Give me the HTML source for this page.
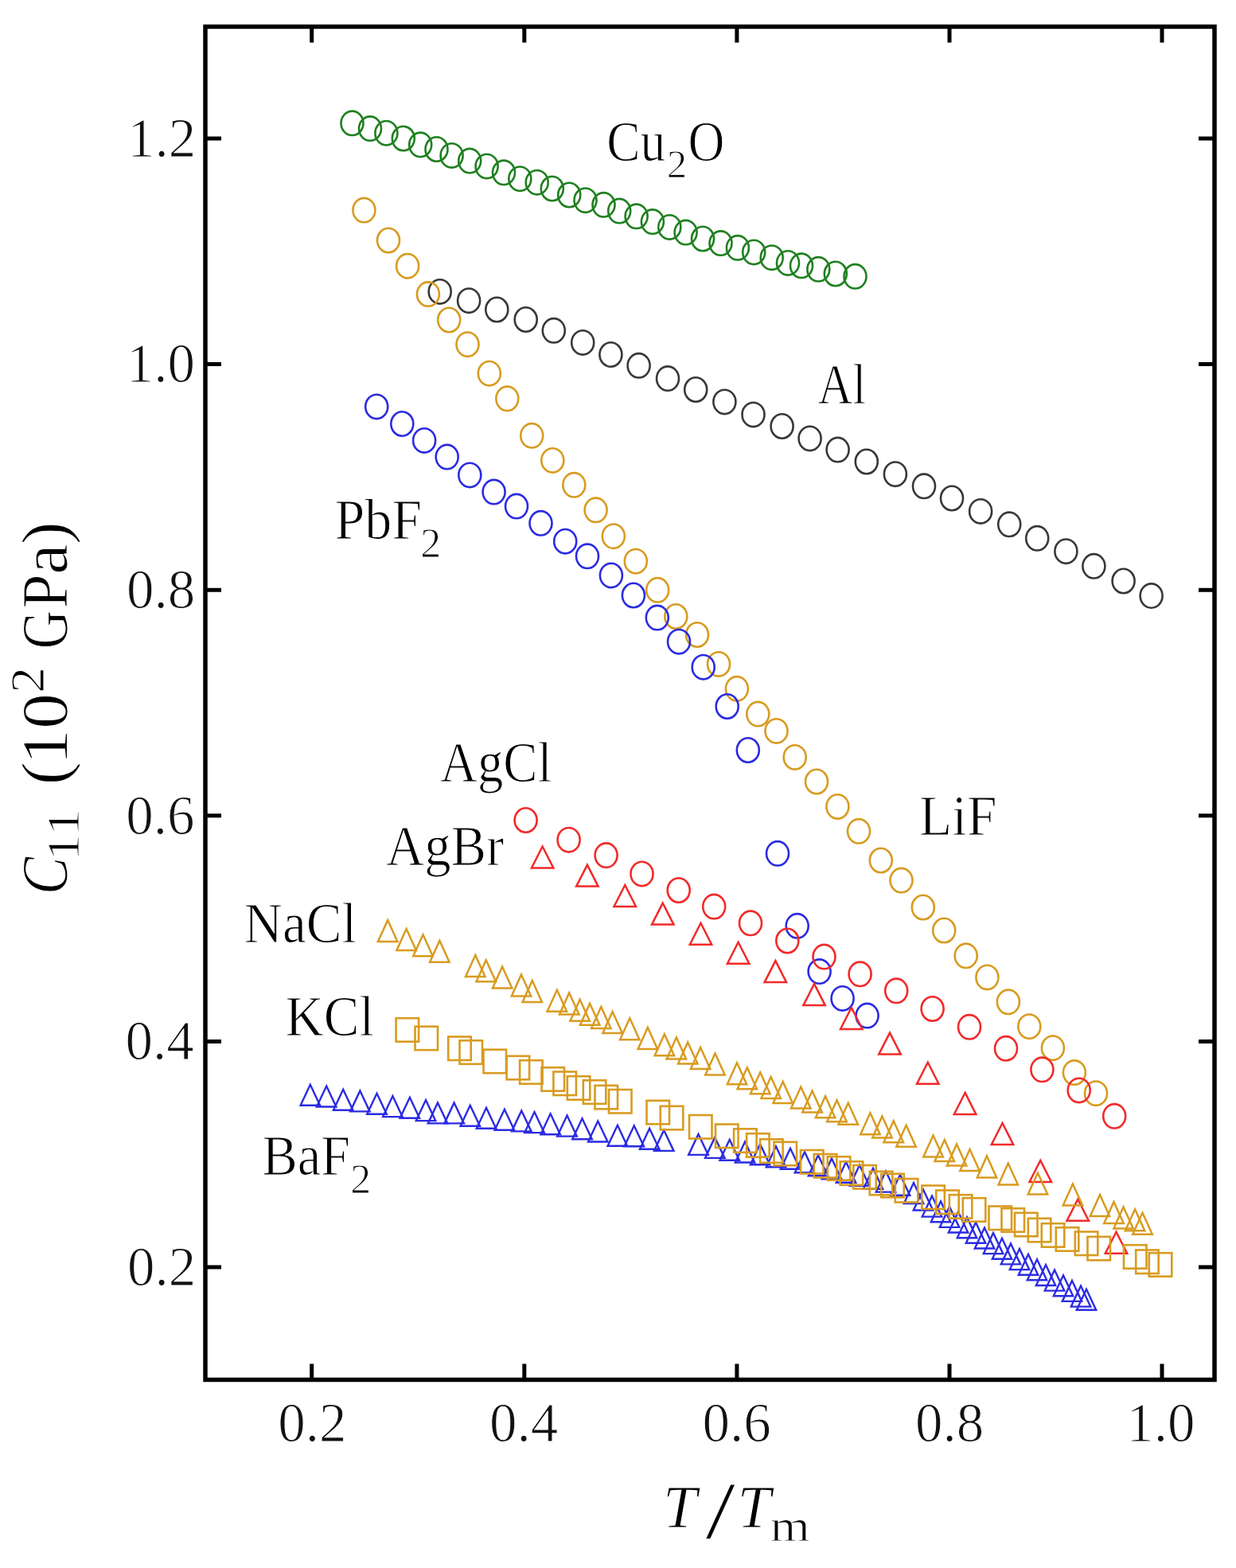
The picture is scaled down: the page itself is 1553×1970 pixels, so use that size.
<!DOCTYPE html>
<html><head><meta charset="utf-8"><title>C11 vs T/Tm</title>
<style>html,body{margin:0;padding:0;background:#fff;}body{width:1553px;height:1970px;overflow:hidden;}svg{display:block;}</style>
</head><body>
<svg width="1553" height="1970" viewBox="0 0 1553 1970">
<rect width="100%" height="100%" fill="#fff"/>
<g fill="none" stroke="#1f801f" stroke-width="2.6"><ellipse cx="442.5" cy="154.8" rx="14" ry="15.2"/><ellipse cx="465.0" cy="161.6" rx="14" ry="15.2"/><ellipse cx="485.4" cy="167.2" rx="14" ry="15.2"/><ellipse cx="506.8" cy="174.0" rx="14" ry="15.2"/><ellipse cx="528.2" cy="181.8" rx="14" ry="15.2"/><ellipse cx="548.5" cy="187.5" rx="14" ry="15.2"/><ellipse cx="567.6" cy="195.4" rx="14" ry="15.2"/><ellipse cx="590.2" cy="202.1" rx="14" ry="15.2"/><ellipse cx="611.6" cy="208.9" rx="14" ry="15.2"/><ellipse cx="633.0" cy="216.8" rx="14" ry="15.2"/><ellipse cx="653.3" cy="224.7" rx="14" ry="15.2"/><ellipse cx="674.7" cy="229.2" rx="14" ry="15.2"/><ellipse cx="693.8" cy="237.0" rx="14" ry="15.2"/><ellipse cx="715.2" cy="245.0" rx="14" ry="15.2"/><ellipse cx="735.5" cy="251.7" rx="14" ry="15.2"/><ellipse cx="758.5" cy="257.3" rx="14" ry="15.2"/><ellipse cx="778.2" cy="265.1" rx="14" ry="15.2"/><ellipse cx="799.6" cy="271.8" rx="14" ry="15.2"/><ellipse cx="819.9" cy="278.6" rx="14" ry="15.2"/><ellipse cx="841.3" cy="285.4" rx="14" ry="15.2"/><ellipse cx="861.6" cy="292.1" rx="14" ry="15.2"/><ellipse cx="883.0" cy="300.0" rx="14" ry="15.2"/><ellipse cx="905.5" cy="305.6" rx="14" ry="15.2"/><ellipse cx="926.9" cy="311.3" rx="14" ry="15.2"/><ellipse cx="947.2" cy="316.9" rx="14" ry="15.2"/><ellipse cx="969.7" cy="323.7" rx="14" ry="15.2"/><ellipse cx="990.0" cy="330.4" rx="14" ry="15.2"/><ellipse cx="1007.0" cy="333.8" rx="14" ry="15.2"/><ellipse cx="1028.3" cy="338.3" rx="14" ry="15.2"/><ellipse cx="1049.8" cy="344.0" rx="14" ry="15.2"/><ellipse cx="1074.5" cy="347.3" rx="14" ry="15.2"/></g>
<g fill="none" stroke="#383838" stroke-width="2.6"><ellipse cx="552.7" cy="366.4" rx="14" ry="15.2"/><ellipse cx="589.1" cy="377.7" rx="14" ry="15.2"/><ellipse cx="624.3" cy="389.0" rx="14" ry="15.2"/><ellipse cx="660.7" cy="401.5" rx="14" ry="15.2"/><ellipse cx="695.8" cy="415.3" rx="14" ry="15.2"/><ellipse cx="732.2" cy="430.4" rx="14" ry="15.2"/><ellipse cx="767.4" cy="445.5" rx="14" ry="15.2"/><ellipse cx="802.6" cy="459.3" rx="14" ry="15.2"/><ellipse cx="839.0" cy="475.6" rx="14" ry="15.2"/><ellipse cx="874.2" cy="489.5" rx="14" ry="15.2"/><ellipse cx="910.4" cy="504.9" rx="14" ry="15.2"/><ellipse cx="946.5" cy="520.9" rx="14" ry="15.2"/><ellipse cx="982.6" cy="535.5" rx="14" ry="15.2"/><ellipse cx="1017.6" cy="550.9" rx="14" ry="15.2"/><ellipse cx="1052.6" cy="565.1" rx="14" ry="15.2"/><ellipse cx="1088.8" cy="580.0" rx="14" ry="15.2"/><ellipse cx="1124.9" cy="595.7" rx="14" ry="15.2"/><ellipse cx="1161.0" cy="610.8" rx="14" ry="15.2"/><ellipse cx="1196.0" cy="626.0" rx="14" ry="15.2"/><ellipse cx="1232.1" cy="642.4" rx="14" ry="15.2"/><ellipse cx="1268.2" cy="658.8" rx="14" ry="15.2"/><ellipse cx="1303.2" cy="676.3" rx="14" ry="15.2"/><ellipse cx="1339.4" cy="692.7" rx="14" ry="15.2"/><ellipse cx="1374.4" cy="711.3" rx="14" ry="15.2"/><ellipse cx="1411.6" cy="730.0" rx="14" ry="15.2"/><ellipse cx="1446.6" cy="748.6" rx="14" ry="15.2"/></g>
<g fill="none" stroke="#d89b20" stroke-width="2.6"><ellipse cx="457.4" cy="264.1" rx="14" ry="15.2"/><ellipse cx="488.0" cy="302.0" rx="14" ry="15.2"/><ellipse cx="512.1" cy="334.2" rx="14" ry="15.2"/><ellipse cx="537.9" cy="369.6" rx="14" ry="15.2"/><ellipse cx="564.2" cy="402.0" rx="14" ry="15.2"/><ellipse cx="587.5" cy="432.7" rx="14" ry="15.2"/><ellipse cx="614.8" cy="469.2" rx="14" ry="15.2"/><ellipse cx="637.3" cy="500.8" rx="14" ry="15.2"/><ellipse cx="668.2" cy="547.3" rx="14" ry="15.2"/><ellipse cx="694.3" cy="578.4" rx="14" ry="15.2"/><ellipse cx="721.3" cy="609.3" rx="14" ry="15.2"/><ellipse cx="748.6" cy="640.8" rx="14" ry="15.2"/><ellipse cx="770.8" cy="673.7" rx="14" ry="15.2"/><ellipse cx="798.8" cy="705.2" rx="14" ry="15.2"/><ellipse cx="826.2" cy="741.3" rx="14" ry="15.2"/><ellipse cx="849.3" cy="774.5" rx="14" ry="15.2"/><ellipse cx="876.0" cy="797.5" rx="14" ry="15.2"/><ellipse cx="903.0" cy="834.4" rx="14" ry="15.2"/><ellipse cx="925.9" cy="865.3" rx="14" ry="15.2"/><ellipse cx="952.3" cy="897.1" rx="14" ry="15.2"/><ellipse cx="975.5" cy="918.4" rx="14" ry="15.2"/><ellipse cx="998.7" cy="951.4" rx="14" ry="15.2"/><ellipse cx="1026.0" cy="982.0" rx="14" ry="15.2"/><ellipse cx="1052.4" cy="1013.4" rx="14" ry="15.2"/><ellipse cx="1079.0" cy="1044.3" rx="14" ry="15.2"/><ellipse cx="1106.8" cy="1081.0" rx="14" ry="15.2"/><ellipse cx="1132.5" cy="1106.1" rx="14" ry="15.2"/><ellipse cx="1159.8" cy="1140.0" rx="14" ry="15.2"/><ellipse cx="1186.2" cy="1169.0" rx="14" ry="15.2"/><ellipse cx="1213.7" cy="1200.8" rx="14" ry="15.2"/><ellipse cx="1240.4" cy="1227.9" rx="14" ry="15.2"/><ellipse cx="1266.9" cy="1258.8" rx="14" ry="15.2"/><ellipse cx="1293.3" cy="1289.7" rx="14" ry="15.2"/><ellipse cx="1322.9" cy="1316.7" rx="14" ry="15.2"/><ellipse cx="1349.9" cy="1347.6" rx="14" ry="15.2"/><ellipse cx="1377.0" cy="1373.7" rx="14" ry="15.2"/></g>
<g fill="none" stroke="#2b2be2" stroke-width="2.6"><ellipse cx="473.2" cy="510.9" rx="14" ry="15.2"/><ellipse cx="505.3" cy="532.5" rx="14" ry="15.2"/><ellipse cx="533.1" cy="553.4" rx="14" ry="15.2"/><ellipse cx="561.7" cy="574.1" rx="14" ry="15.2"/><ellipse cx="590.3" cy="596.9" rx="14" ry="15.2"/><ellipse cx="620.6" cy="618.1" rx="14" ry="15.2"/><ellipse cx="649.0" cy="636.1" rx="14" ry="15.2"/><ellipse cx="679.5" cy="657.3" rx="14" ry="15.2"/><ellipse cx="710.2" cy="680.2" rx="14" ry="15.2"/><ellipse cx="738.0" cy="698.8" rx="14" ry="15.2"/><ellipse cx="767.9" cy="722.9" rx="14" ry="15.2"/><ellipse cx="795.9" cy="748.0" rx="14" ry="15.2"/><ellipse cx="825.8" cy="776.1" rx="14" ry="15.2"/><ellipse cx="853.0" cy="806.2" rx="14" ry="15.2"/><ellipse cx="883.7" cy="838.2" rx="14" ry="15.2"/><ellipse cx="913.7" cy="887.5" rx="14" ry="15.2"/><ellipse cx="939.8" cy="942.5" rx="14" ry="15.2"/><ellipse cx="977.0" cy="1072.3" rx="14" ry="15.2"/><ellipse cx="1001.7" cy="1163.3" rx="14" ry="15.2"/><ellipse cx="1029.6" cy="1220.6" rx="14" ry="15.2"/><ellipse cx="1058.6" cy="1254.4" rx="14" ry="15.2"/><ellipse cx="1089.6" cy="1276.1" rx="14" ry="15.2"/></g>
<g fill="none" stroke="#f22a2a" stroke-width="2.6"><ellipse cx="660.6" cy="1030.5" rx="14" ry="15.2"/><ellipse cx="714.6" cy="1055.2" rx="14" ry="15.2"/><ellipse cx="761.6" cy="1074.6" rx="14" ry="15.2"/><ellipse cx="806.5" cy="1097.9" rx="14" ry="15.2"/><ellipse cx="852.7" cy="1118.5" rx="14" ry="15.2"/><ellipse cx="897.2" cy="1139.1" rx="14" ry="15.2"/><ellipse cx="943.0" cy="1159.8" rx="14" ry="15.2"/><ellipse cx="989.3" cy="1182.0" rx="14" ry="15.2"/><ellipse cx="1035.5" cy="1202.1" rx="14" ry="15.2"/><ellipse cx="1080.6" cy="1223.8" rx="14" ry="15.2"/><ellipse cx="1126.2" cy="1244.8" rx="14" ry="15.2"/><ellipse cx="1171.6" cy="1267.5" rx="14" ry="15.2"/><ellipse cx="1218.0" cy="1290.3" rx="14" ry="15.2"/><ellipse cx="1264.0" cy="1317.3" rx="14" ry="15.2"/><ellipse cx="1309.4" cy="1343.8" rx="14" ry="15.2"/><ellipse cx="1355.7" cy="1369.9" rx="14" ry="15.2"/><ellipse cx="1400.2" cy="1402.3" rx="14" ry="15.2"/></g>
<g fill="none" stroke="#f22a2a" stroke-width="2.5" stroke-linejoin="miter"><path d="M681.6 1063.5L695.4 1090.5H667.9Z"/><path d="M737.9 1086.6L751.6 1113.6H724.1Z"/><path d="M785.3 1112.0L799.0 1139.0H771.5Z"/><path d="M832.7 1134.6L846.5 1161.6H819.0Z"/><path d="M880.5 1159.8L894.2 1186.8H866.8Z"/><path d="M927.6 1183.7L941.4 1210.7H913.9Z"/><path d="M974.4 1207.1L988.1 1234.1H960.6Z"/><path d="M1023.1 1236.1L1036.8 1263.1H1009.4Z"/><path d="M1069.8 1265.9L1083.5 1292.9H1056.0Z"/><path d="M1118.0 1297.6L1131.8 1324.6H1104.2Z"/><path d="M1165.8 1334.8L1179.5 1361.8H1152.0Z"/><path d="M1212.6 1372.9L1226.3 1399.9H1198.8Z"/><path d="M1259.5 1411.0L1273.2 1438.0H1245.8Z"/><path d="M1307.2 1457.9L1321.0 1484.9H1293.5Z"/><path d="M1354.3 1506.8L1368.0 1533.8H1340.5Z"/><path d="M1402.5 1547.8L1416.2 1574.8H1388.8Z"/></g>
<g fill="none" stroke="#d89b20" stroke-width="2.5" stroke-linejoin="miter"><path d="M487.2 1156.1L499.4 1183.1H474.9Z"/><path d="M510.6 1167.0L522.9 1194.0H498.4Z"/><path d="M531.5 1174.2L543.8 1201.2H519.2Z"/><path d="M552.4 1181.7L564.6 1208.7H540.1Z"/><path d="M597.3 1200.1L609.5 1227.1H585.0Z"/><path d="M610.7 1206.3L623.0 1233.3H598.5Z"/><path d="M631.1 1214.4L643.4 1241.4H618.9Z"/><path d="M655.0 1224.4L667.2 1251.4H642.8Z"/><path d="M668.8 1231.9L681.0 1258.9H656.5Z"/><path d="M699.9 1243.8L712.1 1270.8H687.6Z"/><path d="M715.2 1247.4L727.5 1274.4H703.0Z"/><path d="M728.6 1255.8L740.9 1282.8H716.4Z"/><path d="M741.1 1260.8L753.4 1287.8H728.9Z"/><path d="M755.3 1265.0L767.5 1292.0H743.0Z"/><path d="M769.6 1270.9L781.9 1297.9H757.4Z"/><path d="M791.3 1279.2L803.5 1306.2H779.0Z"/><path d="M813.9 1290.9L826.1 1317.9H801.6Z"/><path d="M834.9 1299.3L847.1 1326.3H822.6Z"/><path d="M849.9 1303.5L862.1 1330.5H837.6Z"/><path d="M864.2 1309.4L876.5 1336.4H852.0Z"/><path d="M880.1 1316.1L892.4 1343.1H867.9Z"/><path d="M898.5 1323.6L910.8 1350.6H886.2Z"/><path d="M926.0 1335.3L938.2 1362.3H913.8Z"/><path d="M938.8 1341.3L951.0 1368.3H926.5Z"/><path d="M955.2 1347.2L967.5 1374.2H943.0Z"/><path d="M968.6 1353.0L980.9 1380.0H956.4Z"/><path d="M983.7 1358.9L996.0 1385.9H971.5Z"/><path d="M1006.3 1365.6L1018.5 1392.6H994.0Z"/><path d="M1020.5 1370.6L1032.8 1397.6H1008.2Z"/><path d="M1037.0 1377.3L1049.2 1404.3H1024.8Z"/><path d="M1051.5 1382.3L1063.8 1409.3H1039.2Z"/><path d="M1065.7 1385.7L1078.0 1412.7H1053.5Z"/><path d="M1093.4 1398.2L1105.7 1425.2H1081.2Z"/><path d="M1108.4 1402.4L1120.7 1429.4H1096.2Z"/><path d="M1122.7 1408.3L1135.0 1435.3H1110.5Z"/><path d="M1138.6 1413.8L1150.8 1440.8H1126.3Z"/><path d="M1172.5 1426.6L1184.8 1453.6H1160.2Z"/><path d="M1186.8 1432.1L1199.0 1459.1H1174.5Z"/><path d="M1202.1 1437.5L1214.3 1464.5H1189.8Z"/><path d="M1218.5 1444.1L1230.8 1471.1H1206.2Z"/><path d="M1240.0 1452.4L1252.2 1479.4H1227.8Z"/><path d="M1266.7 1461.6L1279.0 1488.6H1254.5Z"/><path d="M1303.9 1473.6L1316.2 1500.6H1291.7Z"/><path d="M1347.9 1487.6L1360.2 1514.6H1335.7Z"/><path d="M1382.0 1501.0L1394.2 1528.0H1369.8Z"/><path d="M1399.5 1510.1L1411.8 1537.1H1387.2Z"/><path d="M1411.6 1516.4L1423.8 1543.4H1399.3Z"/><path d="M1426.1 1519.3L1438.3 1546.3H1413.8Z"/><path d="M1435.5 1523.7L1447.8 1550.7H1423.2Z"/></g>
<g fill="none" stroke="#2b2be2" stroke-width="2.4" stroke-linejoin="miter"><path d="M389.8 1362.8L402.1 1388.8H377.6Z"/><path d="M410.2 1364.5L422.4 1390.5H397.9Z"/><path d="M431.2 1368.7L443.4 1394.7H418.9Z"/><path d="M452.4 1370.4L464.6 1396.4H440.1Z"/><path d="M473.5 1373.7L485.8 1399.7H461.2Z"/><path d="M493.4 1377.1L505.6 1403.1H481.1Z"/><path d="M514.9 1378.8L527.1 1404.8H502.6Z"/><path d="M535.0 1382.1L547.2 1408.1H522.8Z"/><path d="M550.0 1385.4L562.2 1411.4H537.8Z"/><path d="M570.6 1385.4L582.9 1411.4H558.4Z"/><path d="M590.7 1388.8L603.0 1414.8H578.5Z"/><path d="M611.0 1391.8L623.2 1417.8H598.8Z"/><path d="M633.9 1393.7L646.1 1419.7H621.6Z"/><path d="M655.3 1395.4L667.5 1421.4H643.0Z"/><path d="M671.5 1397.1L683.8 1423.1H659.2Z"/><path d="M691.6 1399.2L703.9 1425.2H679.4Z"/><path d="M712.5 1401.6L724.8 1427.6H700.2Z"/><path d="M731.5 1405.2L743.8 1431.2H719.2Z"/><path d="M751.2 1408.5L763.5 1434.5H739.0Z"/><path d="M775.9 1413.7L788.1 1439.7H763.6Z"/><path d="M796.7 1414.2L809.0 1440.2H784.5Z"/><path d="M816.1 1417.7L828.4 1443.7H803.9Z"/><path d="M834.2 1419.9L846.5 1445.9H822.0Z"/><path d="M877.5 1424.9L889.8 1450.9H865.2Z"/><path d="M898.2 1428.9L910.5 1454.9H886.0Z"/><path d="M916.7 1431.7L929.0 1457.7H904.5Z"/><path d="M936.0 1434.5L948.2 1460.5H923.8Z"/><path d="M955.0 1437.3L967.2 1463.3H942.8Z"/><path d="M975.0 1440.2L987.2 1466.2H962.8Z"/><path d="M993.0 1442.8L1005.2 1468.8H980.8Z"/><path d="M1011.0 1447.2L1023.2 1473.2H998.8Z"/><path d="M1028.0 1451.3L1040.2 1477.3H1015.8Z"/><path d="M1045.0 1455.4L1057.2 1481.4H1032.8Z"/><path d="M1063.0 1459.8L1075.2 1485.8H1050.8Z"/><path d="M1080.0 1463.8L1092.2 1489.8H1067.8Z"/><path d="M1097.0 1467.8L1109.2 1493.8H1084.8Z"/><path d="M1113.0 1471.6L1125.2 1497.6H1100.8Z"/><path d="M1131.0 1475.8L1143.2 1501.8H1118.8Z"/><path d="M1148.0 1486.1L1160.2 1512.1H1135.8Z"/><path d="M1160.0 1494.5L1172.2 1520.5H1147.8Z"/><path d="M1171.0 1502.6L1183.2 1528.6H1158.8Z"/><path d="M1182.0 1509.3L1194.2 1535.3H1169.8Z"/><path d="M1193.0 1515.9L1205.2 1541.9H1180.8Z"/><path d="M1204.0 1522.5L1216.2 1548.5H1191.8Z"/><path d="M1215.0 1529.2L1227.2 1555.2H1202.8Z"/><path d="M1226.0 1535.8L1238.2 1561.8H1213.8Z"/><path d="M1237.0 1542.5L1249.2 1568.5H1224.8Z"/><path d="M1248.0 1549.1L1260.2 1575.1H1235.8Z"/><path d="M1259.0 1555.8L1271.2 1581.8H1246.8Z"/><path d="M1270.0 1562.4L1282.2 1588.4H1257.8Z"/><path d="M1281.0 1569.1L1293.2 1595.1H1268.8Z"/><path d="M1292.0 1575.7L1304.2 1601.7H1279.8Z"/><path d="M1303.0 1582.3L1315.2 1608.3H1290.8Z"/><path d="M1314.0 1589.0L1326.2 1615.0H1301.8Z"/><path d="M1325.0 1595.6L1337.2 1621.6H1312.8Z"/><path d="M1336.0 1602.3L1348.2 1628.3H1323.8Z"/><path d="M1347.0 1608.9L1359.2 1634.9H1334.8Z"/><path d="M1358.0 1615.6L1370.2 1641.6H1345.8Z"/><path d="M1365.0 1619.8L1377.2 1645.8H1352.8Z"/></g>
<g fill="none" stroke="#d89b20" stroke-width="2.6"><rect x="497.6" y="1279.2" width="28.5" height="29.5"/><rect x="521.5" y="1289.7" width="28.5" height="29.5"/><rect x="563.2" y="1302.5" width="28.5" height="29.5"/><rect x="577.5" y="1307.3" width="28.5" height="29.5"/><rect x="607.5" y="1318.7" width="28.5" height="29.5"/><rect x="636.6" y="1326.8" width="28.5" height="29.5"/><rect x="653.1" y="1332.2" width="28.5" height="29.5"/><rect x="680.5" y="1341.2" width="28.5" height="29.5"/><rect x="695.4" y="1346.5" width="28.5" height="29.5"/><rect x="712.8" y="1352.2" width="28.5" height="29.5"/><rect x="732.8" y="1357.3" width="28.5" height="29.5"/><rect x="747.5" y="1363.8" width="28.5" height="29.5"/><rect x="765.0" y="1369.0" width="28.5" height="29.5"/><rect x="812.5" y="1382.8" width="28.5" height="29.5"/><rect x="829.8" y="1389.8" width="28.5" height="29.5"/><rect x="866.0" y="1401.0" width="28.5" height="29.5"/><rect x="899.0" y="1412.5" width="28.5" height="29.5"/><rect x="922.1" y="1418.3" width="28.5" height="29.5"/><rect x="938.1" y="1424.2" width="28.5" height="29.5"/><rect x="955.1" y="1431.3" width="28.5" height="29.5"/><rect x="972.5" y="1434.8" width="28.5" height="29.5"/><rect x="1006.0" y="1445.0" width="28.5" height="29.5"/><rect x="1022.8" y="1450.0" width="28.5" height="29.5"/><rect x="1039.8" y="1453.2" width="28.5" height="29.5"/><rect x="1055.7" y="1459.3" width="28.5" height="29.5"/><rect x="1072.3" y="1464.0" width="28.5" height="29.5"/><rect x="1092.8" y="1471.8" width="28.5" height="29.5"/><rect x="1107.3" y="1474.8" width="28.5" height="29.5"/><rect x="1124.8" y="1481.0" width="28.5" height="29.5"/><rect x="1158.3" y="1489.5" width="28.5" height="29.5"/><rect x="1176.2" y="1495.5" width="28.5" height="29.5"/><rect x="1192.8" y="1501.2" width="28.5" height="29.5"/><rect x="1209.8" y="1505.2" width="28.5" height="29.5"/><rect x="1242.5" y="1515.5" width="28.5" height="29.5"/><rect x="1258.5" y="1518.2" width="28.5" height="29.5"/><rect x="1275.0" y="1523.8" width="28.5" height="29.5"/><rect x="1291.8" y="1530.8" width="28.5" height="29.5"/><rect x="1308.8" y="1537.2" width="28.5" height="29.5"/><rect x="1326.8" y="1542.2" width="28.5" height="29.5"/><rect x="1350.8" y="1547.5" width="28.5" height="29.5"/><rect x="1366.5" y="1553.8" width="28.5" height="29.5"/><rect x="1412.0" y="1564.2" width="28.5" height="29.5"/><rect x="1427.2" y="1570.5" width="28.5" height="29.5"/><rect x="1443.8" y="1574.2" width="28.5" height="29.5"/></g>
<rect x="258.0" y="33.5" width="1268.0" height="1700.0" fill="none" stroke="#000" stroke-width="5.5"/>
<path d="M391.7 1733.5V1713.5M391.7 33.5V53.5M658.8 1733.5V1713.5M658.8 33.5V53.5M925.9 1733.5V1713.5M925.9 33.5V53.5M1193.0 1733.5V1713.5M1193.0 33.5V53.5M1460.0 1733.5V1713.5M1460.0 33.5V53.5M258.0 174.0H278.0M1526.0 174.0H1506.0M258.0 457.6H278.0M1526.0 457.6H1506.0M258.0 741.2H278.0M1526.0 741.2H1506.0M258.0 1024.8H278.0M1526.0 1024.8H1506.0M258.0 1308.4H278.0M1526.0 1308.4H1506.0M258.0 1592.0H278.0M1526.0 1592.0H1506.0" stroke="#000" stroke-width="5" fill="none"/>
<text transform="translate(166.1 196.8) scale(1.000 1)" x="-6.06" y="0" font-family="'Liberation Serif','Times New Roman',serif" font-size="69" fill="#111" stroke="#fff" stroke-width="1.1">1.2</text>
<text transform="translate(164.9 480.4) scale(1.000 1)" x="-6.06" y="0" font-family="'Liberation Serif','Times New Roman',serif" font-size="69" fill="#111" stroke="#fff" stroke-width="1.1">1.0</text>
<text transform="translate(161.5 764.0) scale(1.000 1)" x="-2.63" y="0" font-family="'Liberation Serif','Times New Roman',serif" font-size="69" fill="#111" stroke="#fff" stroke-width="1.1">0.8</text>
<text transform="translate(160.9 1047.6) scale(1.000 1)" x="-2.63" y="0" font-family="'Liberation Serif','Times New Roman',serif" font-size="69" fill="#111" stroke="#fff" stroke-width="1.1">0.6</text>
<text transform="translate(160.0 1331.2) scale(1.000 1)" x="-2.63" y="0" font-family="'Liberation Serif','Times New Roman',serif" font-size="69" fill="#111" stroke="#fff" stroke-width="1.1">0.4</text>
<text transform="translate(162.7 1614.8) scale(1.000 1)" x="-2.63" y="0" font-family="'Liberation Serif','Times New Roman',serif" font-size="69" fill="#111" stroke="#fff" stroke-width="1.1">0.2</text>
<text transform="translate(351.8 1810.5) scale(1.000 1)" x="-2.63" y="0" font-family="'Liberation Serif','Times New Roman',serif" font-size="69" fill="#111" stroke="#fff" stroke-width="1.1">0.2</text>
<text transform="translate(617.5 1810.5) scale(1.000 1)" x="-2.63" y="0" font-family="'Liberation Serif','Times New Roman',serif" font-size="69" fill="#111" stroke="#fff" stroke-width="1.1">0.4</text>
<text transform="translate(885.1 1810.5) scale(1.000 1)" x="-2.63" y="0" font-family="'Liberation Serif','Times New Roman',serif" font-size="69" fill="#111" stroke="#fff" stroke-width="1.1">0.6</text>
<text transform="translate(1152.5 1810.5) scale(1.000 1)" x="-2.63" y="0" font-family="'Liberation Serif','Times New Roman',serif" font-size="69" fill="#111" stroke="#fff" stroke-width="1.1">0.8</text>
<text transform="translate(1421.2 1810.5) scale(1.000 1)" x="-6.06" y="0" font-family="'Liberation Serif','Times New Roman',serif" font-size="69" fill="#111" stroke="#fff" stroke-width="1.1">1.0</text>
<text transform="translate(764.8 201.8) scale(0.892 1)" x="-2.91" y="0" font-family="'Liberation Serif','Times New Roman',serif" font-size="71" fill="#000" stroke="#fff" stroke-width="1.1">Cu</text>
<text transform="translate(840.0 222.5) scale(1.000 1)" x="-2.24" y="0" font-family="'Liberation Serif','Times New Roman',serif" font-size="51" fill="#000" stroke="#fff" stroke-width="1.1">2</text>
<text transform="translate(867.0 201.8) scale(0.895 1)" x="-2.91" y="0" font-family="'Liberation Serif','Times New Roman',serif" font-size="71" fill="#000" stroke="#fff" stroke-width="1.1">O</text>
<text transform="translate(1028.0 507.0) scale(0.856 1)" x="-0.69" y="0" font-family="'Liberation Serif','Times New Roman',serif" font-size="71" fill="#000" stroke="#fff" stroke-width="1.1">Al</text>
<text transform="translate(422.4 676.5) scale(0.958 1)" x="-2.05" y="0" font-family="'Liberation Serif','Times New Roman',serif" font-size="71" fill="#000" stroke="#fff" stroke-width="1.1">PbF</text>
<text transform="translate(530.5 699.5) scale(1.000 1)" x="-2.29" y="0" font-family="'Liberation Serif','Times New Roman',serif" font-size="52" fill="#000" stroke="#fff" stroke-width="1.1">2</text>
<text transform="translate(1157.0 1048.5) scale(0.949 1)" x="-2.05" y="0" font-family="'Liberation Serif','Times New Roman',serif" font-size="71" fill="#000" stroke="#fff" stroke-width="1.1">LiF</text>
<text transform="translate(553.7 982.0) scale(0.913 1)" x="-0.69" y="0" font-family="'Liberation Serif','Times New Roman',serif" font-size="71" fill="#000" stroke="#fff" stroke-width="1.1">AgCl</text>
<text transform="translate(485.7 1086.5) scale(0.940 1)" x="-0.69" y="0" font-family="'Liberation Serif','Times New Roman',serif" font-size="71" fill="#000" stroke="#fff" stroke-width="1.1">AgBr</text>
<text transform="translate(308.4 1183.5) scale(0.945 1)" x="-2.05" y="0" font-family="'Liberation Serif','Times New Roman',serif" font-size="71" fill="#000" stroke="#fff" stroke-width="1.1">NaCl</text>
<text transform="translate(360.5 1300.5) scale(0.942 1)" x="-2.05" y="0" font-family="'Liberation Serif','Times New Roman',serif" font-size="71" fill="#000" stroke="#fff" stroke-width="1.1">KCl</text>
<text transform="translate(331.3 1476.0) scale(0.935 1)" x="-2.05" y="0" font-family="'Liberation Serif','Times New Roman',serif" font-size="71" fill="#000" stroke="#fff" stroke-width="1.1">BaF</text>
<text transform="translate(442.5 1499.0) scale(1.000 1)" x="-2.29" y="0" font-family="'Liberation Serif','Times New Roman',serif" font-size="52" fill="#000" stroke="#fff" stroke-width="1.1">2</text>
<text transform="translate(838.0 1918.5) scale(1.005 1)" x="-4.97" y="0" font-family="'Liberation Serif','Times New Roman',serif" font-size="76" font-style="italic" fill="#000" stroke="#fff" stroke-width="1.1">T</text>
<g transform="translate(887.6 1932) skewX(-6.3)"><text x="0" y="0" font-family="'Liberation Serif','Times New Roman',serif" font-size="101" fill="#000">/</text></g>
<text transform="translate(931.5 1918.5) scale(0.993 1)" x="-4.97" y="0" font-family="'Liberation Serif','Times New Roman',serif" font-size="76" font-style="italic" fill="#000" stroke="#fff" stroke-width="1.1">T</text>
<text transform="translate(969.0 1936.0) scale(1.107 1)" x="-1.22" y="0" font-family="'Liberation Serif','Times New Roman',serif" font-size="58" fill="#000" stroke="#fff" stroke-width="1.1">m</text>
<g transform="translate(84 1122) rotate(-90)"><text transform="translate(2.0 0.0) scale(0.865 1)" x="-4.56" y="0" font-family="'Liberation Serif','Times New Roman',serif" font-size="82" font-style="italic" fill="#000" stroke="#fff" stroke-width="1.1">C</text><text transform="translate(46.0 15.0) scale(1.188 1)" x="-5.06" y="0" font-family="'Liberation Serif','Times New Roman',serif" font-size="57.6" fill="#000" stroke="#fff" stroke-width="1.1">11</text><text transform="translate(139.5 0.0) scale(1.050 1)" x="-3.65" y="0" font-family="'Liberation Serif','Times New Roman',serif" font-size="83" fill="#000" stroke="#fff" stroke-width="1.1">(</text><text transform="translate(169.0 0.0) scale(1.082 1)" x="-7.29" y="0" font-family="'Liberation Serif','Times New Roman',serif" font-size="83" fill="#000" stroke="#fff" stroke-width="1.1">10</text><text transform="translate(254.2 -29.2) scale(1.061 1)" x="-2.71" y="0" font-family="'Liberation Serif','Times New Roman',serif" font-size="61.6" fill="#000" stroke="#fff" stroke-width="1.1">2</text><text transform="translate(309.6 0.0) scale(0.810 1)" x="-3.38" y="0" font-family="'Liberation Serif','Times New Roman',serif" font-size="82.4" fill="#000" stroke="#fff" stroke-width="1.1">G</text><text transform="translate(359.6 0.0) scale(0.939 1)" x="-2.37" y="0" font-family="'Liberation Serif','Times New Roman',serif" font-size="82.4" fill="#000" stroke="#fff" stroke-width="1.1">P</text><text transform="translate(403.4 0.0) scale(1.048 1)" x="-2.90" y="0" font-family="'Liberation Serif','Times New Roman',serif" font-size="82.4" fill="#000" stroke="#fff" stroke-width="1.1">a</text><text transform="translate(440.5 0.0) scale(1.050 1)" x="-2.67" y="0" font-family="'Liberation Serif','Times New Roman',serif" font-size="83" fill="#000" stroke="#fff" stroke-width="1.1">)</text></g>
</svg>
</body></html>
